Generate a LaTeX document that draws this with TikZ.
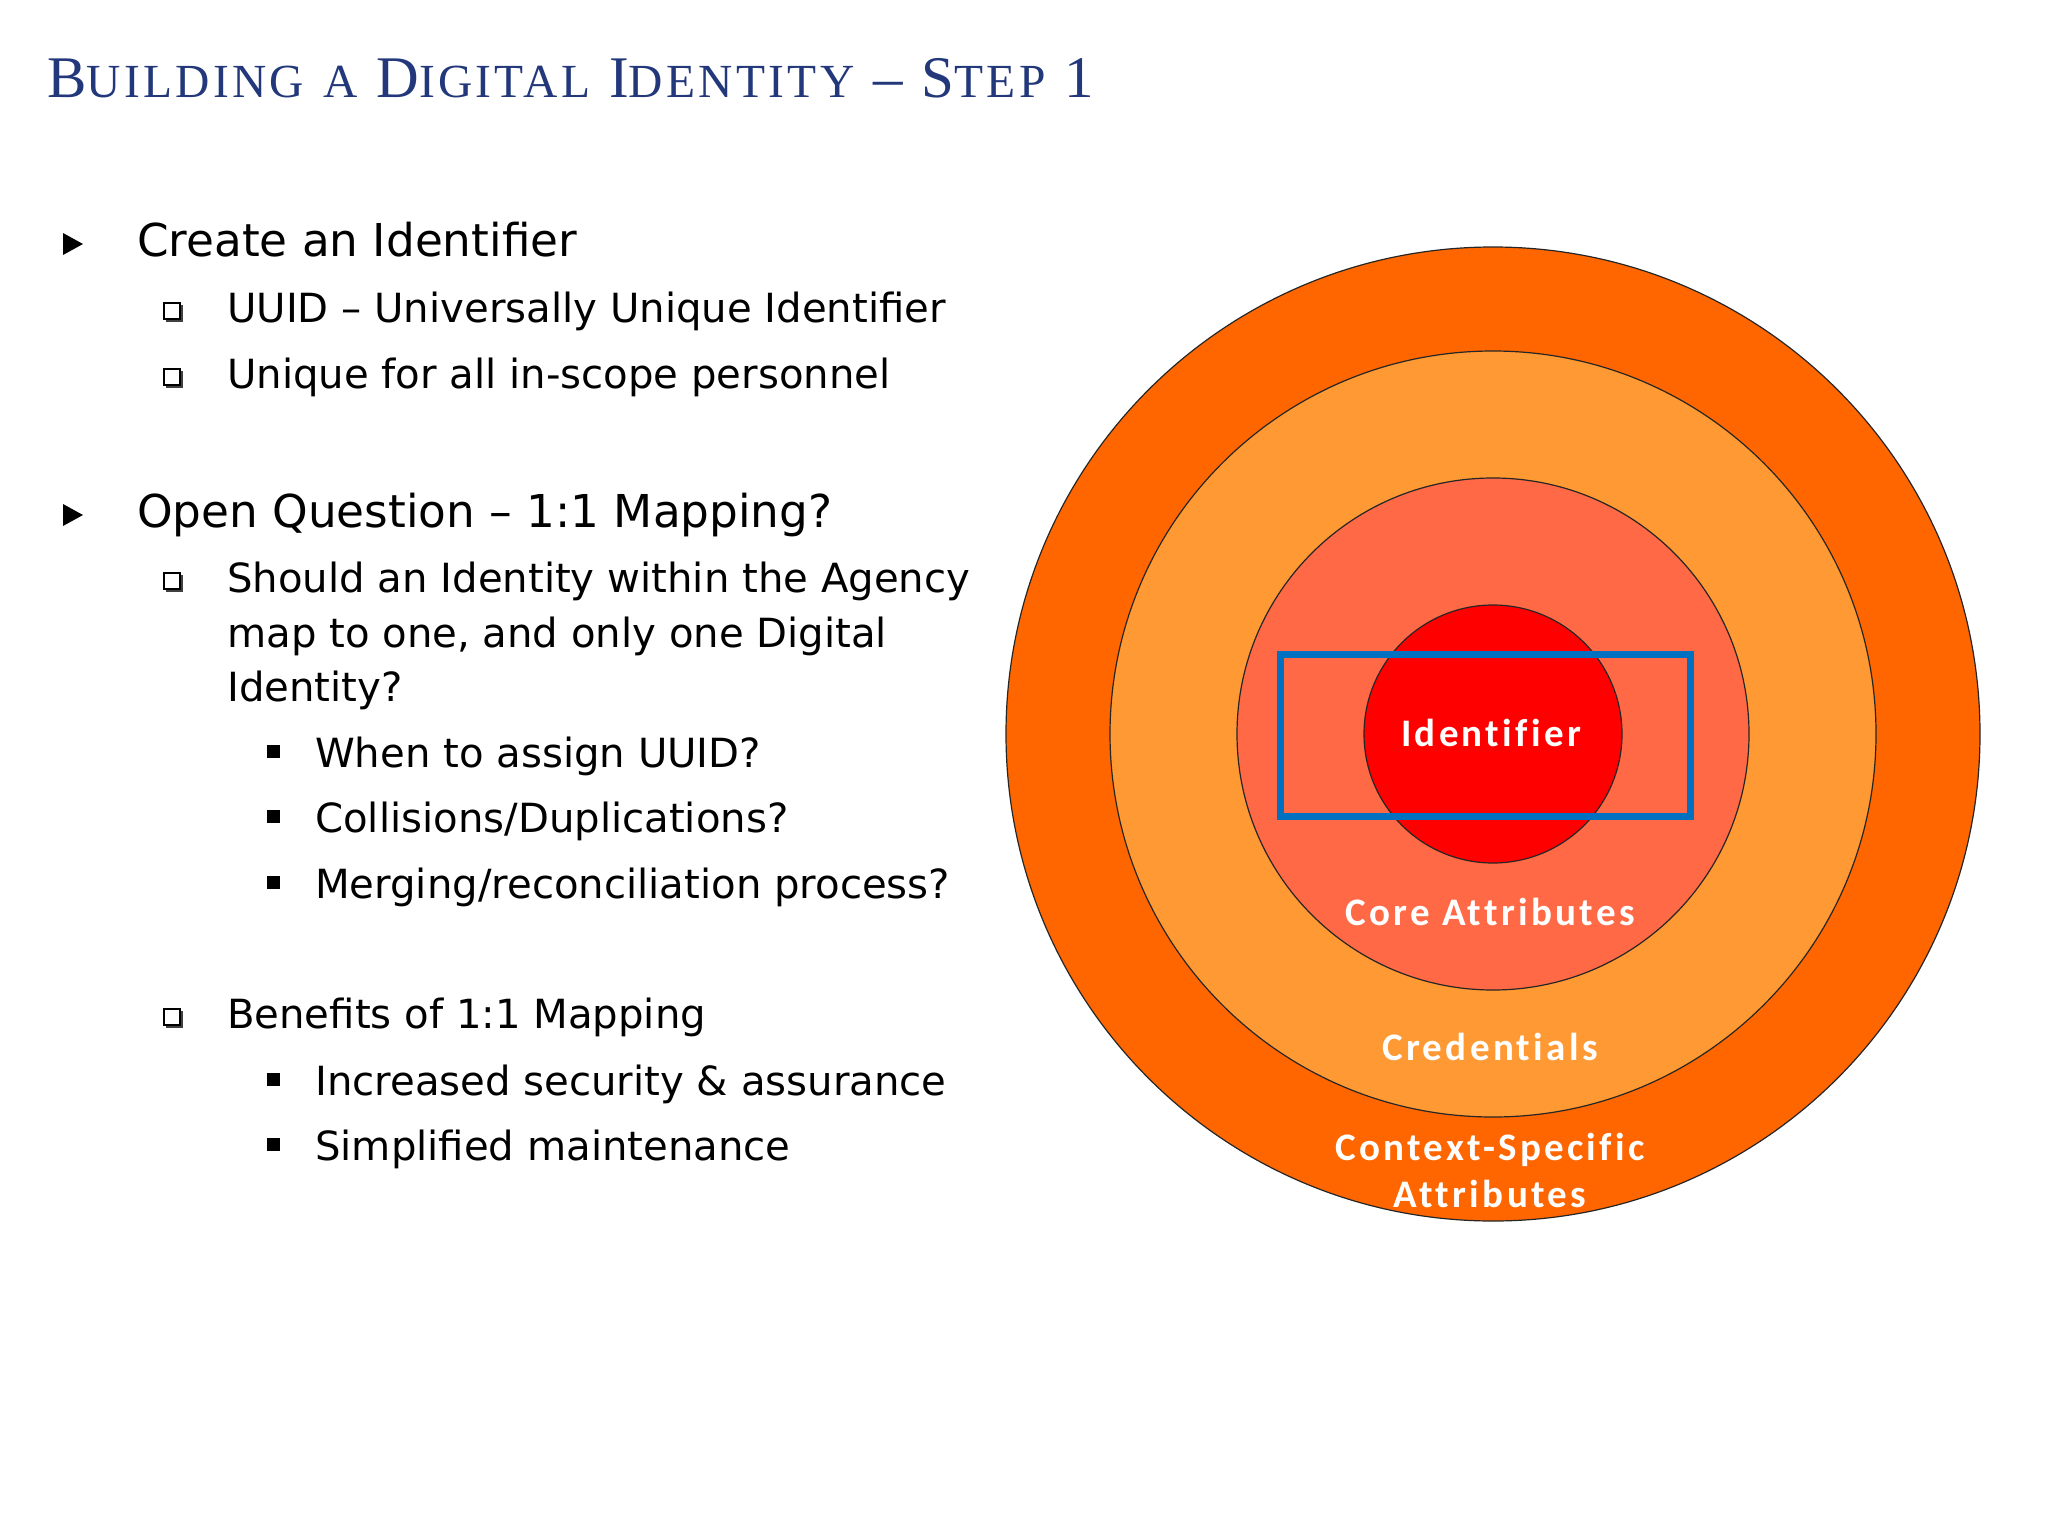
\documentclass[tikz,border=0pt]{standalone}
\usepackage{fontspec}
\setmainfont{DejaVu Sans}
\newfontfamily\titlefont{Liberation Serif}[Ligatures=TeX, LetterSpace=7]
\newfontfamily\ringfont{Carlito}[LetterSpace=8.5, Ligatures=NoCommon]

% Title letters: large initial, small capitals after it
\newcommand{\capword}[2]{{\fontsize{59}{59}\selectfont #1}{\fontsize{47.5}{47.5}\selectfont #2}}

\begin{document}
\begin{tikzpicture}[x=1pt,y=-1pt,
    lvlone/.style={anchor=base west, inner sep=0pt, font=\fontsize{45.3}{45.3}\selectfont},
    lvltwo/.style={anchor=base west, inner sep=0pt, font=\fontsize{40.2}{40.2}\selectfont},
    ringlabel/.style={text=white, inner sep=0pt, align=center,
        font=\ringfont\bfseries\fontsize{39}{47}\selectfont},
    ring/.style={draw=black!85, line width=1.2pt}]
    % Define colours
    \definecolor{titleColour}{HTML}{22387A}
    \definecolor{contextColour}{HTML}{FF6600}
    \definecolor{credColour}{HTML}{FF9933}
    \definecolor{coreColour}{HTML}{FF6946}
    \definecolor{idColour}{HTML}{FF0000}
    \definecolor{frameColour}{HTML}{0070C0}

    % Page area
    \fill[white] (0,0) rectangle (2048,1536);
    \useasboundingbox (0,0) rectangle (2048,1536);

    % Title
    \node[anchor=base west, inner sep=0pt, text=titleColour,
        font=\titlefont\fontsize{59}{59}\selectfont] (title) at (47,98)
        {\capword{B}{UILDING} \capword{}{A} \capword{D}{IGITAL} \capword{I}{DENTITY} \capword{--}{} \capword{S}{TEP} \capword{1}{}};

    % Bullet marks
    \foreach \yb in {256,527}
        \fill (63,\yb-23) -- (83,\yb-12) -- (63,\yb-1) -- cycle;
    \foreach \yb in {322,388,592,1028} {
        \fill[black!75] (166,\yb-17) rectangle (183,\yb);
        \filldraw[fill=white, draw=black, line width=1.5pt] (164,\yb-19) rectangle (180,\yb-3);
    }
    \foreach \yb in {767,832,898,1095,1160}
        \fill (267,\yb-22) rectangle (280,\yb-9);

    % Bullet texts
    \node[lvlone] (create) at (137,256) {Create an Identifier};
    \node[lvltwo] (uuid) at (227,322) {UUID -- Universally Unique Identifier};
    \node[lvltwo] (unique) at (227,388) {Unique for all in-scope personnel};
    \node[lvlone] (open) at (137,527) {Open Question -- 1:1 Mapping?};
    \node[lvltwo] (should) at (227,592) {Should an Identity within the Agency};
    \node[lvltwo] (mapto) at (227,647) {map to one, and only one Digital};
    \node[lvltwo] (identity) at (227,701) {Identity?};
    \node[lvltwo] (when) at (315,767) {When to assign UUID?};
    \node[lvltwo] (collide) at (315,832) {Collisions/Duplications?};
    \node[lvltwo] (merge) at (315,898) {Merging/reconciliation process?};
    \node[lvltwo] (benefits) at (227,1028) {Benefits of 1:1 Mapping};
    \node[lvltwo] (security) at (315,1095) {Increased security \& assurance};
    \node[lvltwo] (maint) at (315,1160) {Simplified maintenance};

    % Identity rings
    \coordinate (O) at (1493,734);
    \filldraw[ring, fill=contextColour] (O) circle[radius=487];
    \filldraw[ring, fill=credColour] (O) circle[radius=383];
    \filldraw[ring, fill=coreColour] (O) circle[radius=256];
    \filldraw[ring, fill=idColour] (O) circle[radius=129];

    % Frame round the identifier
    \draw[frameColour, line width=7pt] (1280,654) rectangle (1690,816);

    % Ring labels
    \node[ringlabel] (ident) at (1491,733) {Identifier};
    \node[ringlabel] (core) at (1490,912) {Core Attributes};
    \node[ringlabel] (cred) at (1490,1047) {Credentials};
    \node[ringlabel] (context) at (1490,1170) {Context-Specific\\Attributes};

\end{tikzpicture}
\end{document}
